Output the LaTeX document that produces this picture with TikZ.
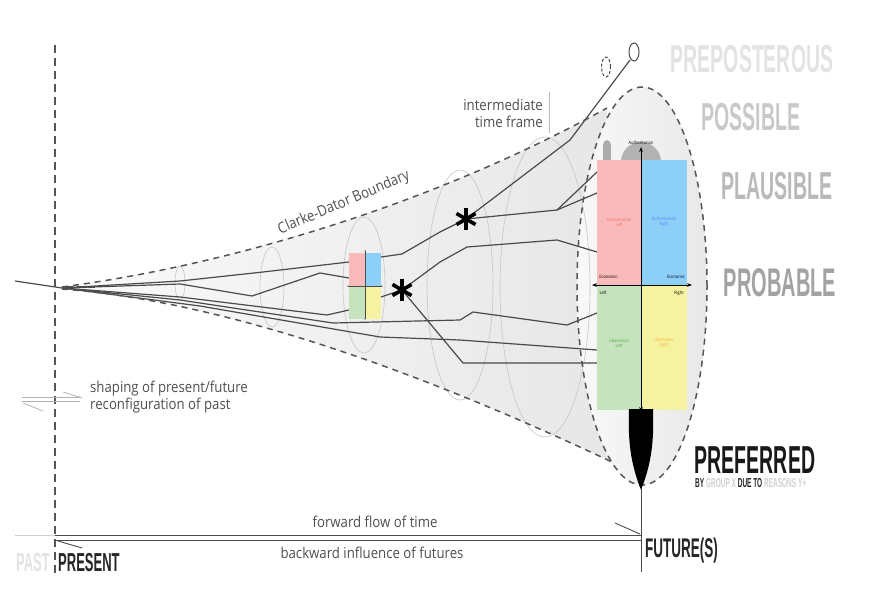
\documentclass[tikz,border=0pt]{standalone}
\usepackage{fontspec}
\setmainfont{Open Sans}
\newfontfamily\bodyfont[FakeStretch=0.88]{Open Sans}
\newfontfamily\headfont[FakeStretch=0.5]{Liberation Sans}
\usetikzlibrary{arrows.meta}
\definecolor{traj}{HTML}{4A4A4A}
\definecolor{dashc}{HTML}{555555}
\definecolor{txt}{HTML}{505050}
\definecolor{pinkq}{HTML}{F8BABA}
\definecolor{blueq}{HTML}{8CD0F7}
\definecolor{greenq}{HTML}{C5E3BC}
\definecolor{yellowq}{HTML}{F5F3A0}
\tikzset{
  trajline/.style={traj,line width=1.2pt},
  bound/.style={dashc,line width=1.5pt,dash pattern=on 6pt off 5pt},
  section/.style={gray!45,line width=0.6pt},
  spoke/.style={black,line width=3.6pt},
  body/.style={font=\bodyfont\fontsize{15}{17}\selectfont,text=txt,inner sep=0pt},
  head/.style={font=\headfont\bfseries,inner sep=0pt},
  thinl/.style={gray!60,line width=0.8pt},
  tiny/.style={font=\bodyfont\fontsize{4.5}{5}\selectfont,inner sep=0pt,align=center}
}
\begin{document}
\begin{tikzpicture}[x=1pt,y=-1pt]
\useasboundingbox (0,0) rectangle (880,610);
\fill[white] (0,0) rectangle (880,610);

% cone fill
\shade[left color=gray!4,right color=gray!19]
  (62,287) .. controls (250,262) and (450,195) .. (607,108)
  -- (612,462) .. controls (470,395) and (250,303) .. (62,289) -- cycle;
\coordinate (ec) at (642,286);
\shade[left color=gray!5,right color=gray!18] (ec) ellipse [x radius=65pt,y radius=199pt];

% cross sections
\draw[section] (180,283) ellipse [x radius=5pt,y radius=17pt];
\draw[section] (272,287) ellipse [x radius=12pt,y radius=40pt];
\draw[section] (364,285) ellipse [x radius=21pt,y radius=68pt];
\draw[section] (460,285) ellipse [x radius=33pt,y radius=115pt];
\draw[section] (545,287) ellipse [x radius=45pt,y radius=150pt];

% coordinates
\coordinate (ap) at (62,288);
\coordinate (s1) at (466,219);
\coordinate (s2) at (402,290);
\coordinate (top) at (630,60);

% trajectories
\draw[trajline] (15,281) -- (ap);
\draw[traj,line width=2.6pt,dash pattern=on 7pt off 4pt] (66,287) -- (98,287);
\draw[trajline] (ap) -- (180,281) -- (263,272) -- (349,262);
\draw[trajline] (381,257) -- (402,254) -- (440,232) -- (s1);
\draw[trajline] (s1) -- (570,140) -- (top);
\draw[trajline] (s1) -- (557,210) -- (597,193);
\draw[trajline] (557,210) -- (597,172);
\draw[trajline] (ap) -- (180,284) -- (252,296) -- (320,273) -- (349,278);
\draw[trajline] (ap) -- (180,297) -- (327,315) -- (349,310);
\draw[trajline] (381,297) -- (s2);
\draw[trajline] (s2) -- (440,262) -- (467,247) -- (557,240) -- (597,252);
\draw[trajline] (s2) -- (463,363) -- (597,363);
\draw[trajline] (ap) -- (180,300) -- (333,323) -- (460,320) -- (473,312) -- (567,325) -- (597,313);
\draw[trajline] (ap) -- (200,306) -- (380,337) -- (460,340) -- (597,350);

% boundaries
\draw[bound] (62,287) .. controls (250,262) and (450,195) .. (607,108);
\draw[bound] (62,289) .. controls (250,303) and (470,395) .. (612,462);
\draw[bound] (ec) ellipse [x radius=65pt,y radius=199pt];

% top ellipses
\draw[traj,line width=1pt] (634,52) ellipse [x radius=5pt,y radius=9pt];
\draw[traj,line width=1pt,dash pattern=on 3pt off 2pt] (606,67) ellipse [x radius=4.5pt,y radius=10pt];

% small compass
\fill[pinkq] (349,253) rectangle (365,286);
\fill[blueq] (365,253) rectangle (381,286);
\fill[greenq] (349,286) rectangle (365,319);
\fill[yellowq] (365,286) rectangle (381,319);
\draw[black!70,line width=0.4pt,{Stealth[length=1.5pt]}-{Stealth[length=1.5pt]}] (365,320) -- (365,250);
\draw[black!70,line width=0.4pt,{Stealth[length=1.5pt]}-{Stealth[length=1.5pt]}] (347,286) -- (383,286);

% grey shapes behind big compass
\fill[gray!60] (621,162) arc[start angle=180,end angle=0,x radius=20pt,y radius=20pt] -- cycle;
\fill[gray!65] (603,145) rectangle (611,163);
\fill[gray!65] (607,145) ellipse [x radius=4pt,y radius=5pt];

% big compass
\fill[pinkq] (597,160) rectangle (641,285);
\fill[blueq] (641,160) rectangle (687,285);
\fill[greenq] (597,285) rectangle (641,410);
\fill[yellowq] (641,285) rectangle (687,410);
\draw[black,line width=0.9pt,{Stealth[length=5pt]}-{Stealth[length=5pt]}] (641,412) -- (641,147);
\draw[black,line width=0.9pt,{Stealth[length=5pt]}-{Stealth[length=5pt]}] (592,285) -- (692,285);
\node[tiny,text=black] (auth) at (641,143) {Authoritarian};
\node[tiny,text=red!45!pinkq] (al) at (619,222) {Authoritarian\\Left};
\node[tiny,text=blue!40!blueq] (ar) at (664,222) {Authoritarian\\Right};
\node[tiny,text=green!50!black!60!greenq] (ll) at (619,343) {Libertarian\\Left};
\node[tiny,text=orange!60!yellowq] (lr) at (664,343) {Libertarian\\Right};
\node[tiny,text=black] (el) at (609,277) {Economic-};
\node[tiny,text=black!80!blue] (er) at (676,277) {Economic};
\node[tiny,text=black] (lf) at (603,293) {Left};
\node[tiny,text=black] (rt) at (679,293) {Right};

% black spike
\fill[black] (629,409) -- (653,409) .. controls (654,440) and (652,462) .. (641,490)
  .. controls (630,462) and (628,440) .. (629,409) -- cycle;

% asterisks
\foreach \a in {90,150,210,270,330,30} \draw[spoke] (s1) -- ++(\a:11pt);
\foreach \a in {90,150,210,270,330,30} \draw[spoke] (s2) -- ++(\a:11pt);

% time lines
\draw[dashc,line width=1.3pt,dash pattern=on 8pt off 5pt] (55,45) -- (55,576);
\draw[traj,line width=1pt] (641,488) -- (641,572);
\draw[gray!35,line width=1pt] (15,535) -- (55,535);
\draw[traj,line width=1pt] (55,535) -- (641,535);
\draw[traj,line width=1pt] (55,540) -- (641,540);
\draw[traj,line width=0.9pt] (615,523) -- (640,534);
\draw[traj,line width=0.9pt] (58,541) -- (82,548);

% shaping arrows
\draw[thinl] (22,397) -- (80,397);
\draw[thinl] (22,401) -- (80,401);
\draw[thinl] (63,392) -- (82,398);
\draw[thinl] (23,403) -- (43,411);

% intermediate time frame marker
\draw[gray!55,line width=0.8pt] (549,92) -- (549,133);

% body texts
\node[body,anchor=east,align=right] (itf) at (543,113) {intermediate\\time frame};
\node[body,rotate=23] (cdb) at (344,203) {Clarke-Dator Boundary};
\node[body,anchor=west,align=left] (shp) at (90,397) {shaping of present/future\\reconfiguration of past};
\node[body] (fwd) at (375,522) {forward flow of time};
\node[body] (bwd) at (372,553) {backward influence of futures};

% headings
\node[head,text=gray!22,font=\headfont\bfseries\fontsize{39}{40}\selectfont] (pre) at (752,59) {PREPOSTEROUS};
\node[head,text=gray!42,font=\headfont\bfseries\fontsize{39}{40}\selectfont] (pos) at (751,117) {POSSIBLE};
\node[head,text=gray!55,font=\headfont\bfseries\fontsize{39}{40}\selectfont] (pla) at (777,186) {PLAUSIBLE};
\node[head,text=gray!72,font=\headfont\bfseries\fontsize{40}{41}\selectfont] (pro) at (780,283) {PROBABLE};
\node[head,text=black!90,font=\headfont\bfseries\fontsize{39}{40}\selectfont] (prf) at (755,460) {PREFERRED};
\node[head,font=\headfont\bfseries\fontsize{13}{14}\selectfont,anchor=west] (byg) at (695,483)
  {\textcolor{black!85}{BY} \textcolor{gray!35}{GROUP X} \textcolor{black!85}{DUE TO} \textcolor{gray!35}{REASONS Y+}};
\node[head,text=gray!22,font=\headfont\bfseries\fontsize{26}{27}\selectfont] (past) at (33,563) {PAST};
\node[head,text=black!85,font=\headfont\bfseries\fontsize{26}{27}\selectfont,anchor=west] (prs) at (58,563) {PRESENT};
\node[head,text=black!85,font=\headfont\bfseries\fontsize{27}{28}\selectfont,anchor=west] (fut) at (645,551) {FUTURE(S)};
\end{tikzpicture}
\end{document}
